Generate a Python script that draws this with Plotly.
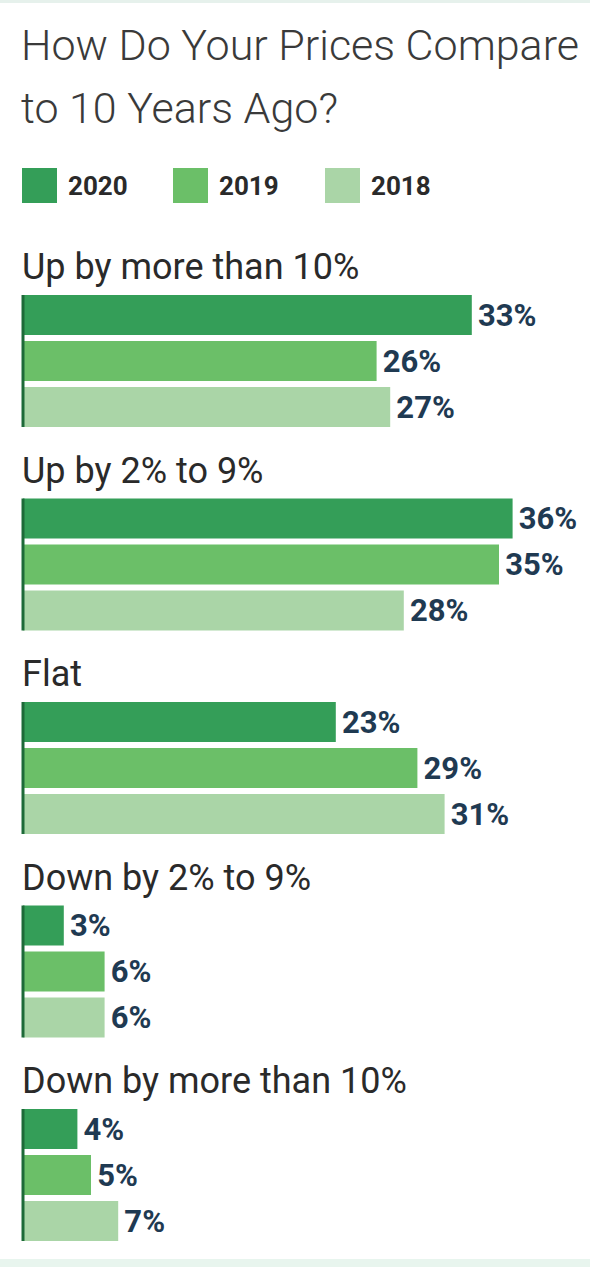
import plotly.graph_objects as go

# ---- data ----
categories = ["Up by more than 10%", "Up by 2% to 9%", "Flat",
              "Down by 2% to 9%", "Down by more than 10%"]
series_names = ["2020", "2019", "2018"]
values_2020 = [33, 36, 23, 3, 4]
values_2019 = [26, 35, 29, 6, 5]
values_2018 = [27, 28, 31, 6, 7]
title_lines = ["How Do Your Prices Compare", "to 10 Years Ago?"]

# ---- styles / layout constants ----
W, H = 590, 1267
colors = ["#349e58", "#6bbf68", "#aad5a7"]
axis_line_color = "#1d6a38"
label_color = "#1f3a52"
FONT = "Roboto, Liberation Sans, sans-serif"

PX_PER_PCT = 13.6
X0_PX = 23           # pixel where 0% lies
FIRST_CENTER = 315   # pixel centre of first bar
GROUP_STRIDE = 203.5
BAR_STEP = 46
BAR_H = 40

all_values = [values_2020, values_2019, values_2018]

def bar_center(g, s):
    return FIRST_CENTER + g * GROUP_STRIDE + s * BAR_STEP

fig = go.Figure()
for s, (name, vals) in enumerate(zip(series_names, all_values)):
    fig.add_trace(go.Bar(
        name=name,
        orientation="h",
        x=vals,
        y=[bar_center(g, s) for g in range(len(categories))],
        width=BAR_H,
        marker=dict(color=colors[s], line=dict(width=0)),
        text=[f"\u200a{v}%" for v in vals],
        textposition="outside",
        constraintext="none",
        cliponaxis=False,
        textfont=dict(family=FONT, size=31, color=label_color, weight="bold"),
        showlegend=False,
        hoverinfo="skip",
    ))

def px_x(p):
    return p / W

def px_y(p):
    return 1 - p / H

annotations = []
shapes = []

# title
for i, (line, yc) in enumerate(zip(title_lines, [45, 108])):
    annotations.append(dict(text=line, x=px_x(19), y=px_y(yc), xref="paper", yref="paper",
                            xanchor="left", yanchor="middle", showarrow=False,
                            font=dict(family=FONT, size=43, color="#3a3a3a", weight=300)))

# legend (drawn manually)
legend_x = [22, 173, 325]
for i, name in enumerate(series_names):
    lx = legend_x[i]
    shapes.append(dict(type="rect", xref="paper", yref="paper",
                       x0=px_x(lx), x1=px_x(lx + 35), y0=px_y(168), y1=px_y(203),
                       fillcolor=colors[i], line=dict(width=0)))
    annotations.append(dict(text=name, x=px_x(lx + 44), y=px_y(186), xref="paper", yref="paper",
                            xanchor="left", yanchor="middle", showarrow=False,
                            font=dict(family=FONT, size=26, color="#2a2a2a", weight="bold")))

# category labels and group axis lines
for g, cat in enumerate(categories):
    top = bar_center(g, 0) - BAR_H / 2
    bottom = bar_center(g, 2) + BAR_H / 2
    annotations.append(dict(text=cat, x=px_x(20), y=top - 28, xref="paper", yref="y",
                            xanchor="left", yanchor="middle", showarrow=False,
                            font=dict(family=FONT, size=36, color="#2a2a2a")))
    shapes.append(dict(type="line", xref="x", yref="y", x0=0, x1=0, y0=top, y1=bottom,
                       line=dict(color=axis_line_color, width=3), layer="above"))

# frame bands
shapes.append(dict(type="rect", xref="paper", yref="paper", x0=0, x1=1, y0=px_y(3), y1=1,
                   fillcolor="#e6f1ec", line=dict(width=0), layer="below"))
shapes.append(dict(type="rect", xref="paper", yref="paper", x0=0, x1=1, y0=0, y1=px_y(1259),
                   fillcolor="#e8f5ee", line=dict(width=0), layer="below"))

fig.update_layout(
    width=W, height=H,
    margin=dict(l=0, r=0, t=0, b=0, pad=0),
    paper_bgcolor="white", plot_bgcolor="white",
    barmode="overlay",
    xaxis=dict(range=[-X0_PX / PX_PER_PCT, (W - X0_PX) / PX_PER_PCT], visible=False, fixedrange=True),
    yaxis=dict(range=[H, 0], visible=False, fixedrange=True),
    annotations=annotations,
    shapes=shapes,
    uniformtext=dict(mode=False),
)

fig.write_html("out.html", config={"displayModeBar": False},
               post_script="document.body.style.margin='0';document.body.style.overflow='hidden';")
